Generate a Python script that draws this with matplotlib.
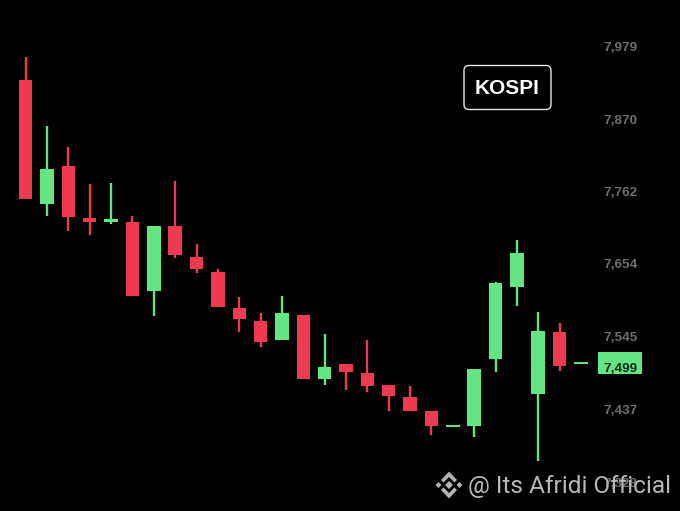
import numpy as np
import matplotlib
matplotlib.use("Agg")
from matplotlib import pyplot as plt
from matplotlib.patches import FancyBboxPatch, Polygon, Rectangle

# candles (index points)
opens = [7928, 7744, 7800, 7722, 7716, 7717, 7613, 7711, 7664, 7642, 7588, 7568, 7540, 7578,
         7482, 7505, 7491, 7473, 7455, 7435, 7411, 7412, 7512, 7620, 7459, 7552, 7505]
closes = [7751, 7796, 7724, 7716, 7721, 7606, 7711, 7667, 7646, 7589, 7572, 7538, 7581, 7482,
          7500, 7493, 7472, 7457, 7435, 7412, 7414, 7497, 7625, 7670, 7554, 7501, 7508]
highs = [7963, 7860, 7829, 7773, 7775, 7725, 7711, 7777, 7683, 7646, 7604, 7580, 7606, 7578,
         7549, 7505, 7540, 7473, 7471, 7435, 7414, 7497, 7627, 7689, 7582, 7565, 7508]
lows = [7751, 7725, 7703, 7697, 7713, 7606, 7576, 7663, 7640, 7589, 7552, 7530, 7540, 7482,
        7473, 7465, 7462, 7435, 7435, 7398, 7411, 7396, 7493, 7591, 7360, 7494, 7505]

tick_values = [7979, 7870, 7762, 7654, 7545, 7437, 7328]
tick_labels = ["7,979", "7,870", "7,762", "7,654", "7,545", "7,437", "7,328"]
last_price = 7499
last_label = "7,499"
tag_low, tag_high = 7490, 7522

RED = "#EE3A50"
GREEN = "#62E582"
# no condensed face here, so the labels are just set a bit smaller to keep the width
LABEL_FONT = ["Liberation Sans", "DejaVu Sans"]

fig = plt.figure(figsize=(6.8, 5.11), dpi=100, facecolor="black")
ax = fig.add_axes([0, 0, 598 / 680, 1], facecolor="black")

x = np.arange(len(opens))
opens = np.array(opens)
closes = np.array(closes)
colors = [GREEN if c >= o else RED for o, c in zip(opens, closes)]

ax.vlines(x, lows, highs, colors=colors, linewidth=1.7, zorder=2)
ax.bar(x, np.abs(closes - opens), bottom=np.minimum(opens, closes), width=0.63,
       color=colors, linewidth=0, zorder=3)

ax.set_xlim(-1.204, 26.8)
ax.set_ylim(7285, 8048)
ax.set_xticks([])
ax.yaxis.tick_right()
ax.set_yticks(tick_values)
ax.set_yticklabels(tick_labels, family=LABEL_FONT, fontsize=9.7, fontweight="bold", color="#6E6E6E",
                   va="center_baseline")
ax.tick_params(axis="y", length=0, pad=3.6)
for s in ax.spines.values():
    s.set_visible(False)

# last price tag, sits past the right edge of the axes
ax.add_patch(Rectangle((1.0, tag_low), 44 / 598, tag_high - tag_low, facecolor=GREEN, linewidth=0,
                       transform=ax.get_yaxis_transform(), clip_on=False, zorder=4))
ax.text(1.0 + 5 / 598, last_price, last_label, transform=ax.get_yaxis_transform(), family=LABEL_FONT,
        fontsize=9.7, fontweight="bold", color="#0E2A14", va="center_baseline", ha="left", zorder=5)

# overlay in pixel coords for the badge and the watermark
ov = fig.add_axes([0, 0, 1, 1], facecolor="none")
ov.set_xlim(0, 680)
ov.set_ylim(511, 0)
ov.axis("off")

ov.add_patch(FancyBboxPatch((468, 69.5), 79, 36, boxstyle="round,pad=4,rounding_size=5",
                            facecolor="black", edgecolor="#E6E6E6", linewidth=1))
ov.text(507.5, 88, "KOSPI", family=LABEL_FONT, fontsize=15, fontweight="bold", color="white",
        ha="center", va="center")

# binance style mark
mark = "#B4B4B4"
cx, cy = 449, 485
for dx, dy, r in [(0, 0, 4), (-10.5, 0, 3), (10.5, 0, 3)]:
    ov.add_patch(Polygon([(cx + dx - r, cy + dy), (cx + dx, cy + dy - r), (cx + dx + r, cy + dy),
                          (cx + dx, cy + dy + r)], facecolor=mark, linewidth=0))
for sgn in (-1, 1):
    ov.add_patch(Polygon([(cx - 8, cy + sgn * 5), (cx, cy + sgn * 13.5), (cx + 8, cy + sgn * 5),
                          (cx + 5.5, cy + sgn * 2.5), (cx, cy + sgn * 8), (cx - 5.5, cy + sgn * 2.5)],
                         facecolor=mark, linewidth=0))
ov.text(468, 486, "@ Its Afridi Official", family=["Roboto", "DejaVu Sans"], fontsize=17.6,
        color="#B8B8B8", ha="left", va="center")

fig.savefig("out.png", dpi=100, facecolor="black")
